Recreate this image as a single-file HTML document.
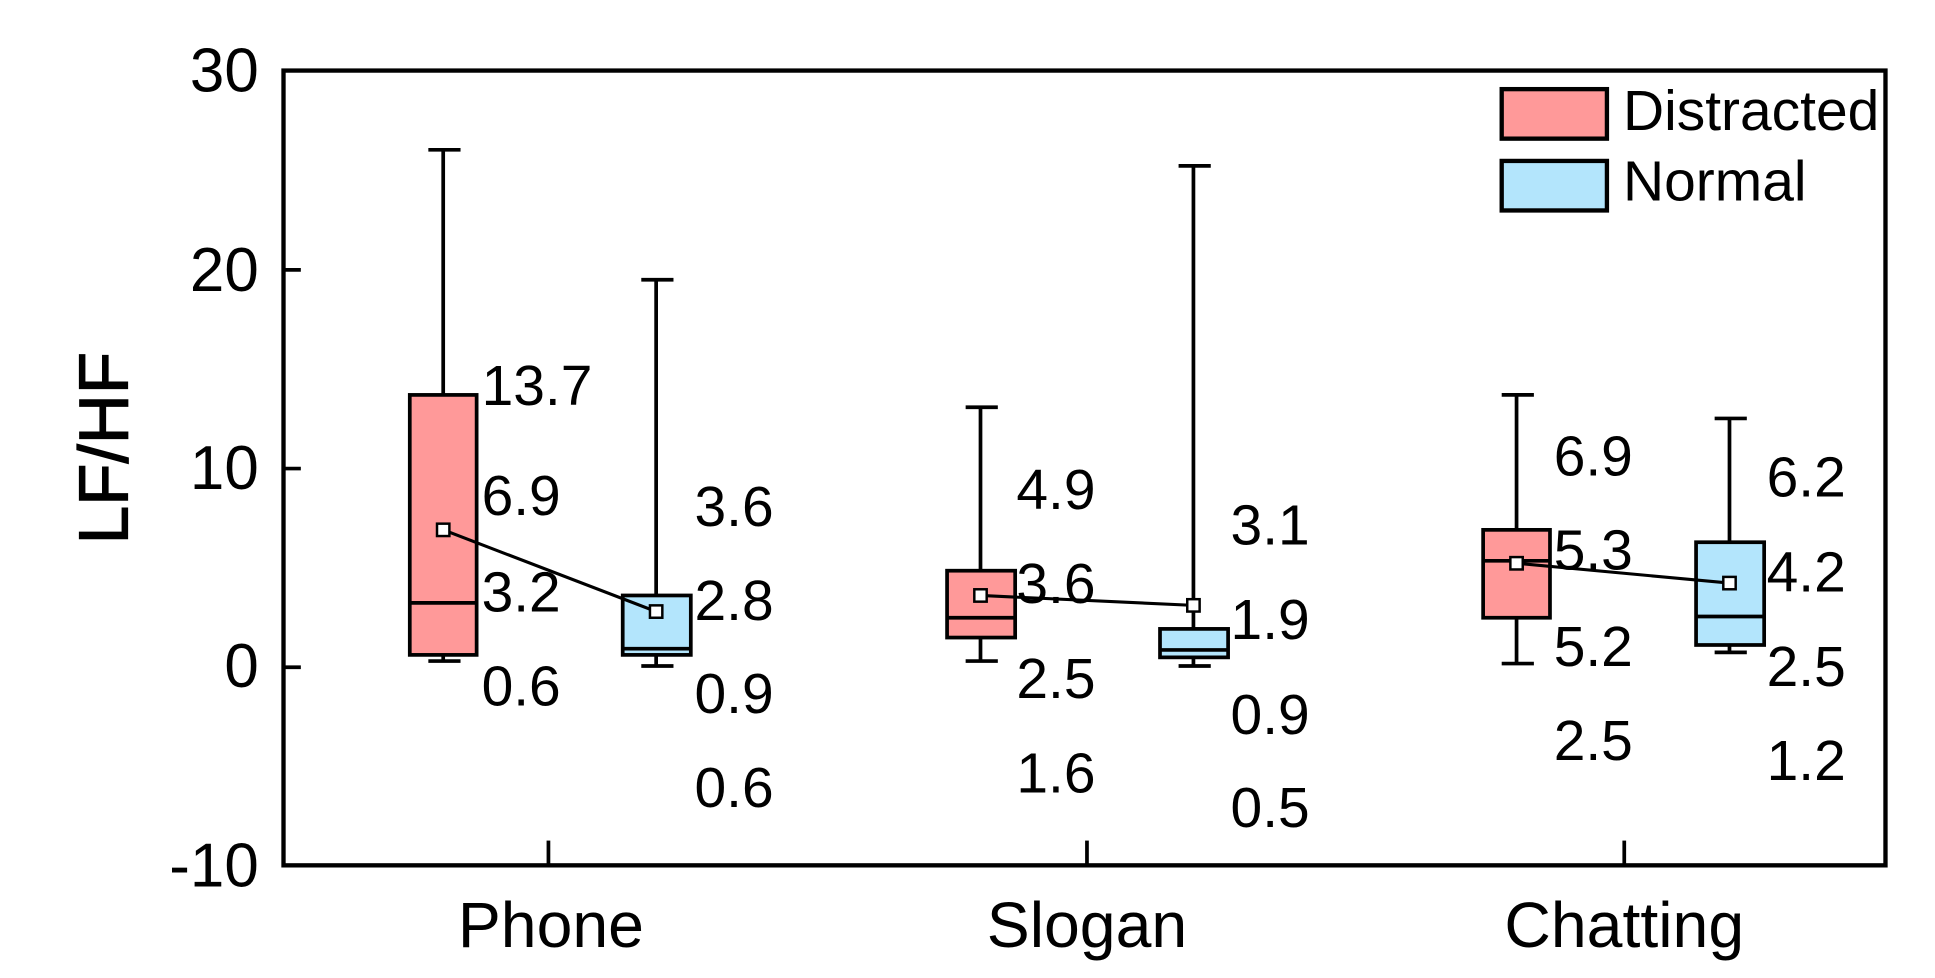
<!DOCTYPE html>
<html><head><style>html,body{margin:0;padding:0;background:#fff;}svg{display:block}</style></head>
<body>
<svg width="1935" height="978" viewBox="0 0 1563 790" preserveAspectRatio="none" xmlns="http://www.w3.org/2000/svg" font-family="Liberation Sans, Arial, sans-serif">
<rect width="1563" height="790" fill="#fff"/>
<rect x="229" y="57" width="1294" height="642" fill="none" stroke="#000" stroke-width="3.5"/>
<g stroke="#000" stroke-width="3">
<line x1="229" y1="218" x2="243" y2="218"/><line x1="229" y1="378.5" x2="243" y2="378.5"/><line x1="229" y1="539" x2="243" y2="539"/>
<line x1="443" y1="699" x2="443" y2="679"/><line x1="878" y1="699" x2="878" y2="679"/><line x1="1312" y1="699" x2="1312" y2="679"/>
</g>
<g font-size="50" text-anchor="end" fill="#000">
<text x="209" y="74">30</text><text x="209" y="235">20</text><text x="209" y="395">10</text><text x="209" y="555">0</text><text x="209" y="716">-10</text>
</g>
<text transform="translate(103,362) rotate(-90)" font-size="56" text-anchor="middle" stroke="#000" stroke-width="1">LF/HF</text>
<g font-size="52" text-anchor="middle">
<text x="445" y="765">Phone</text><text x="878" y="765">Slogan</text><text x="1312" y="765">Chatting</text>
</g>
<g stroke="#000" stroke-width="3">
<line x1="358" y1="121" x2="358" y2="534"/><line x1="346" y1="121" x2="372" y2="121"/><line x1="346" y1="534" x2="372" y2="534"/>
<rect x="331" y="319" width="54" height="210" fill="#ff9999"/><line x1="331" y1="487" x2="385" y2="487"/>
<line x1="530" y1="226" x2="530" y2="538"/><line x1="518" y1="226" x2="544" y2="226"/><line x1="518" y1="538" x2="544" y2="538"/>
<rect x="503" y="481" width="55" height="48" fill="#b3e5fc"/><line x1="503" y1="524" x2="558" y2="524"/>
<line x1="792" y1="329" x2="792" y2="534"/><line x1="780" y1="329" x2="806" y2="329"/><line x1="780" y1="534" x2="806" y2="534"/>
<rect x="765" y="461" width="55" height="54" fill="#ff9999"/><line x1="765" y1="499" x2="820" y2="499"/>
<line x1="964" y1="134" x2="964" y2="538"/><line x1="952" y1="134" x2="978" y2="134"/><line x1="952" y1="538" x2="978" y2="538"/>
<rect x="937" y="508" width="55" height="23" fill="#b3e5fc"/><line x1="937" y1="525" x2="992" y2="525"/>
<line x1="1225" y1="319" x2="1225" y2="536"/><line x1="1213" y1="319" x2="1239" y2="319"/><line x1="1213" y1="536" x2="1239" y2="536"/>
<rect x="1198" y="428" width="54" height="71" fill="#ff9999"/><line x1="1198" y1="453" x2="1252" y2="453"/>
<line x1="1397" y1="338" x2="1397" y2="527"/><line x1="1385" y1="338" x2="1411" y2="338"/><line x1="1385" y1="527" x2="1411" y2="527"/>
<rect x="1370" y="438" width="55" height="83" fill="#b3e5fc"/><line x1="1370" y1="498" x2="1425" y2="498"/>
</g>
<g stroke="#000" stroke-width="2.5" fill="none">
<line x1="358" y1="428" x2="530" y2="494"/>
<line x1="792" y1="481" x2="964" y2="489"/>
<line x1="1225" y1="455" x2="1397" y2="471"/>
</g>
<g fill="#fff" stroke="#000" stroke-width="2">
<rect x="353" y="423" width="10" height="10"/><rect x="525" y="489" width="10" height="10"/>
<rect x="787" y="476" width="10" height="10"/><rect x="959" y="484" width="10" height="10"/>
<rect x="1220" y="450" width="10" height="10"/><rect x="1392" y="466" width="10" height="10"/>
</g>
<g font-size="46">
<text x="389" y="327">13.7</text><text x="389" y="416">6.9</text><text x="389" y="494">3.2</text><text x="389" y="570">0.6</text>
<text x="561" y="425">3.6</text><text x="561" y="501">2.8</text><text x="561" y="576">0.9</text><text x="561" y="652">0.6</text>
<text x="821" y="411">4.9</text><text x="821" y="487">3.6</text><text x="821" y="564">2.5</text><text x="821" y="640">1.6</text>
<text x="994" y="440">3.1</text><text x="994" y="516">1.9</text><text x="994" y="593">0.9</text><text x="994" y="668">0.5</text>
<text x="1255" y="384">6.9</text><text x="1255" y="460">5.3</text><text x="1255" y="538">5.2</text><text x="1255" y="614">2.5</text>
<text x="1427" y="401">6.2</text><text x="1427" y="478">4.2</text><text x="1427" y="554">2.5</text><text x="1427" y="630">1.2</text>
</g>
<rect x="1213" y="72" width="85" height="40" fill="#ff9999" stroke="#000" stroke-width="3.5"/>
<rect x="1213" y="130" width="85" height="40" fill="#b3e5fc" stroke="#000" stroke-width="3.5"/>
<g font-size="46"><text x="1311" y="105" textLength="207" lengthAdjust="spacingAndGlyphs">Distracted</text><text x="1311" y="162">Normal</text></g>
</svg>
</body></html>
